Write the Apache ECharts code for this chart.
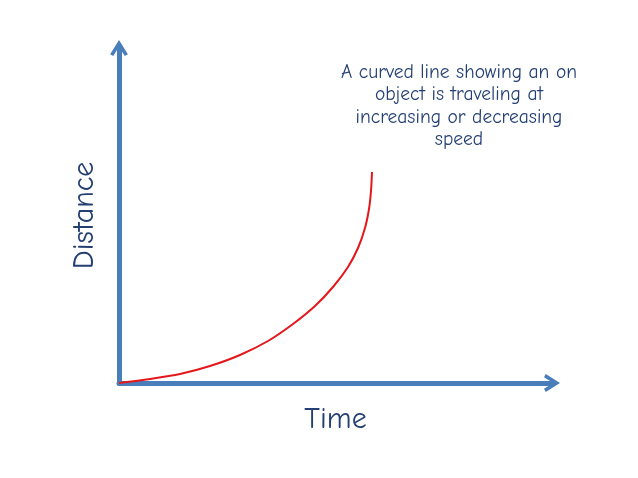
<!DOCTYPE html>
<html><head><meta charset="utf-8">
<script src="https://cdn.jsdelivr.net/npm/echarts@6/dist/echarts.min.js"></script>
<style>html,body{margin:0;padding:0;background:#fff}#c{width:638px;height:478px}</style>
</head><body><div id="c"></div>
<script>
// Curve points (time, distance) in arbitrary units
const timeVals     = [0, 31, 61, 91, 121, 149, 174, 196, 214, 229, 239, 246, 250, 252, 253];
const distanceVals = [0, 4,  9,  17, 28,  42,  59,  77,  96,  116, 135, 155, 174, 192, 211];
const xName = 'Time';
const yName = 'Distance';
const note = 'A curved line showing an on\nobject is traveling at\nincreasing or decreasing\nspeed';

const chart = echarts.init(document.getElementById('c'));
const font = '"Comic Sans MS", "Comic Neue", "Open Sans", sans-serif';
const axisBlue = '#4a7ebb';
const navy = '#243f72';
const chevron = 'path://M0,16 L10,0 L20,16 L16.5,18 L10,7.5 L3.5,18 Z';
const axisCommon = {
  type: 'value',
  axisTick: {show: false},
  axisLabel: {show: false},
  splitLine: {show: false},
  axisLine: {show: true, onZero: false, symbol: ['none', chevron], symbolSize: [20, 16], symbolOffset: [0, 0],
             lineStyle: {color: axisBlue, width: 5}},
  nameLocation: 'middle',
  nameTextStyle: {fontFamily: font, fontSize: 30, color: navy}
};
chart.setOption({
  animation: false,
  grid: {left: 119, right: 86, top: 48, bottom: 95},
  xAxis: Object.assign({}, axisCommon, {min: 0, max: 433, name: xName, nameGap: 22}),
  yAxis: Object.assign({}, axisCommon, {min: 0, max: 335, name: yName, nameGap: 19, nameRotate: 90}),
  graphic: [{
    type: 'text', x: 459, y: 61,
    style: {text: note, textAlign: 'center', fill: navy, font: '19.5px ' + font, lineHeight: 22.5}
  }],
  series: [{
    type: 'line',
    data: timeVals.map((t, i) => [t, distanceVals[i]]),
    smooth: 0.3,
    showSymbol: false,
    lineStyle: {color: '#e3171c', width: 2}
  }]
});
</script></body></html>
